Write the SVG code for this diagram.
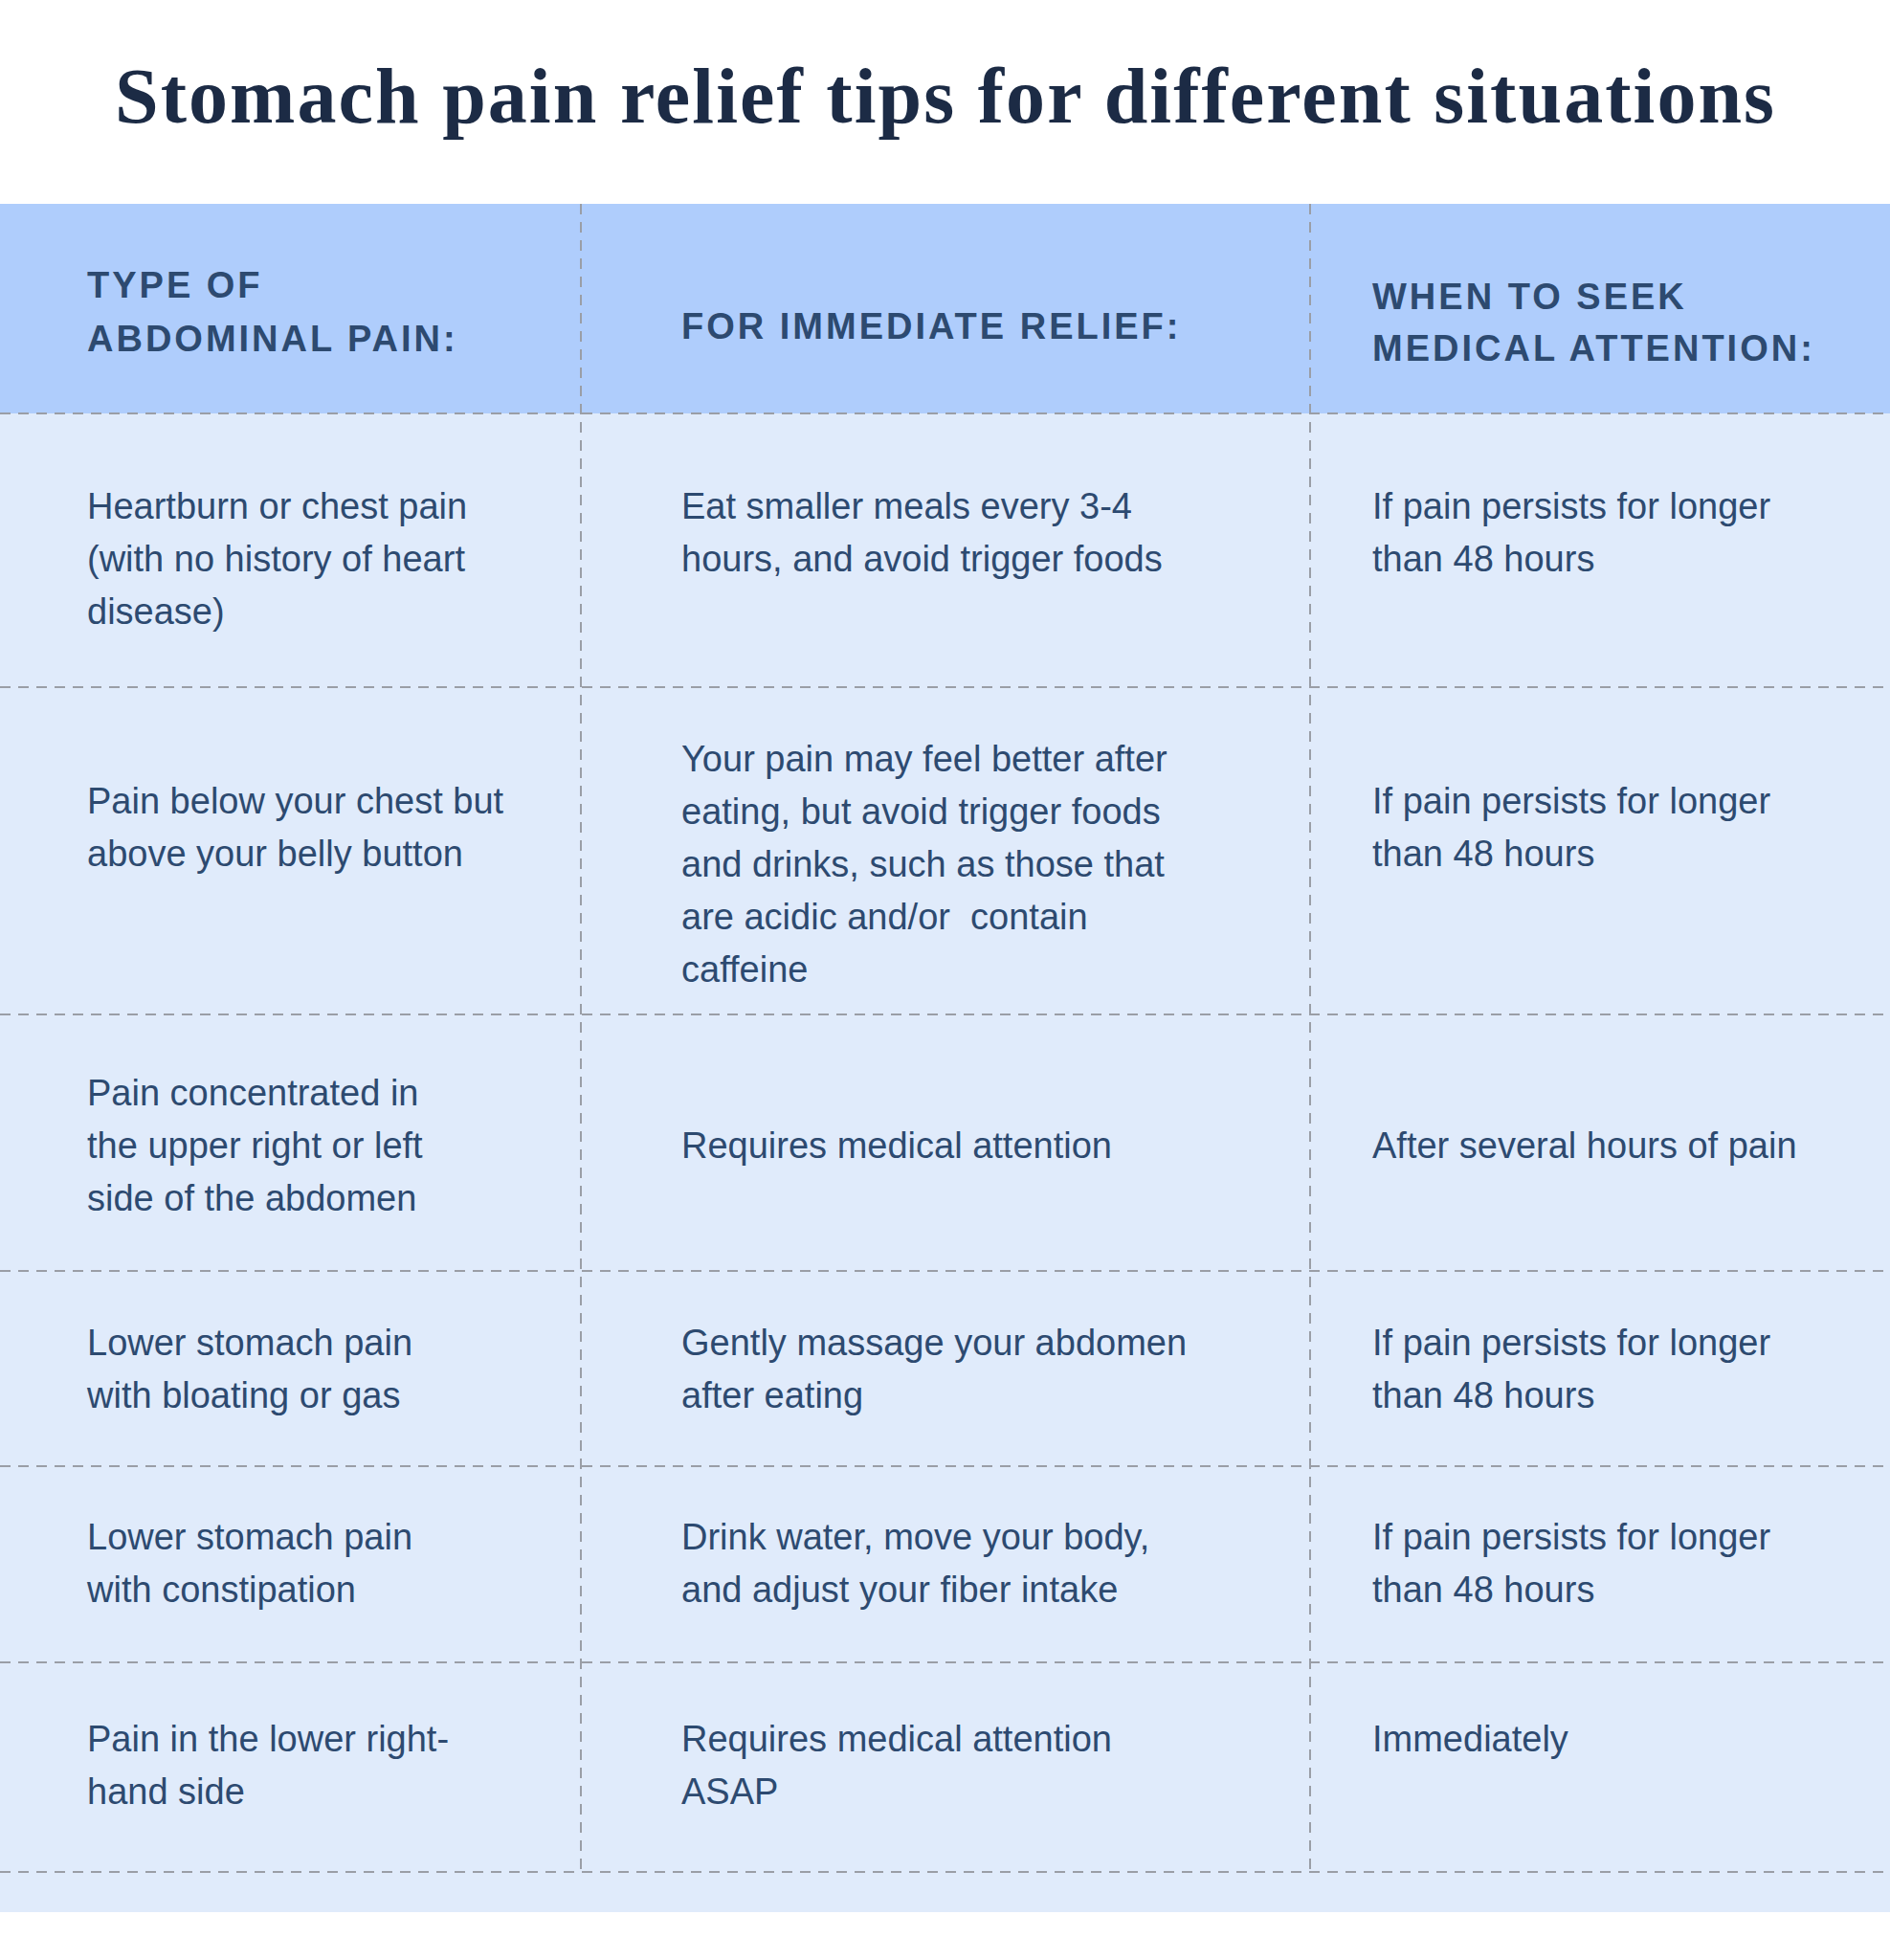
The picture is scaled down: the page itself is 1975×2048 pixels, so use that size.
<svg xmlns="http://www.w3.org/2000/svg" width="1975" height="2048" viewBox="0 0 1975 2048">
<style>
.t{font-family:"Liberation Sans",Arial,sans-serif;font-size:38px;fill:#2d4a70}
.h{font-family:"Liberation Sans",Arial,sans-serif;font-size:38px;font-weight:bold;letter-spacing:3px;fill:#2d4a70}
.d{stroke:#9a9ea6;stroke-width:2;stroke-dasharray:11 8;fill:none}
</style>
<rect width="1975" height="2048" fill="#fff"/>
<text x="987" y="128" text-anchor="middle" font-family="Liberation Serif,serif" font-size="82" font-weight="bold" fill="#1c2b45" textLength="1734">Stomach pain relief tips for different situations</text>
<rect x="0" y="213" width="1975" height="219" fill="#afcdfc"/>
<rect x="0" y="432" width="1975" height="1566" fill="#e0ebfb"/>
<g id="grid">
<path class="d" d="M607 213V1956M1369 213V1956M0 432H1975M0 718H1975M0 1060H1975M0 1328H1975M0 1532H1975M0 1737H1975M0 1956H1975"/>
</g>
<g id="header">
<text class="h" x="91" y="311">TYPE OF</text>
<text class="h" x="91" y="367">ABDOMINAL PAIN:</text>
<text class="h" x="712" y="354">FOR IMMEDIATE RELIEF:</text>
<text class="h" x="1434" y="323">WHEN TO SEEK</text>
<text class="h" x="1434" y="377">MEDICAL ATTENTION:</text>
</g>
<g id="row1">
<text class="t" x="91" y="542">Heartburn or chest pain</text>
<text class="t" x="91" y="597">(with no history of heart</text>
<text class="t" x="91" y="652">disease)</text>
<text class="t" x="712" y="542">Eat smaller meals every 3-4</text>
<text class="t" x="712" y="597">hours, and avoid trigger foods</text>
<text class="t" x="1434" y="542">If pain persists for longer</text>
<text class="t" x="1434" y="597">than 48 hours</text>
</g>
<g id="row2">
<text class="t" x="91" y="850">Pain below your chest but</text>
<text class="t" x="91" y="905">above your belly button</text>
<text class="t" x="712" y="806">Your pain may feel better after</text>
<text class="t" x="712" y="861">eating, but avoid trigger foods</text>
<text class="t" x="712" y="916">and drinks, such as those that</text>
<text class="t" x="712" y="971" xml:space="preserve">are acidic and/or  contain</text>
<text class="t" x="712" y="1026">caffeine</text>
<text class="t" x="1434" y="850">If pain persists for longer</text>
<text class="t" x="1434" y="905">than 48 hours</text>
</g>
<g id="row3">
<text class="t" x="91" y="1155">Pain concentrated in</text>
<text class="t" x="91" y="1210">the upper right or left</text>
<text class="t" x="91" y="1265">side of the abdomen</text>
<text class="t" x="712" y="1210">Requires medical attention</text>
<text class="t" x="1434" y="1210">After several hours of pain</text>
</g>
<g id="row4">
<text class="t" x="91" y="1416">Lower stomach pain</text>
<text class="t" x="91" y="1471">with bloating or gas</text>
<text class="t" x="712" y="1416">Gently massage your abdomen</text>
<text class="t" x="712" y="1471">after eating</text>
<text class="t" x="1434" y="1416">If pain persists for longer</text>
<text class="t" x="1434" y="1471">than 48 hours</text>
</g>
<g id="row5">
<text class="t" x="91" y="1619">Lower stomach pain</text>
<text class="t" x="91" y="1674">with constipation</text>
<text class="t" x="712" y="1619">Drink water, move your body,</text>
<text class="t" x="712" y="1674">and adjust your fiber intake</text>
<text class="t" x="1434" y="1619">If pain persists for longer</text>
<text class="t" x="1434" y="1674">than 48 hours</text>
</g>
<g id="row6">
<text class="t" x="91" y="1830">Pain in the lower right-</text>
<text class="t" x="91" y="1885">hand side</text>
<text class="t" x="712" y="1830">Requires medical attention</text>
<text class="t" x="712" y="1885">ASAP</text>
<text class="t" x="1434" y="1830">Immediately</text>
</g>
</svg>
